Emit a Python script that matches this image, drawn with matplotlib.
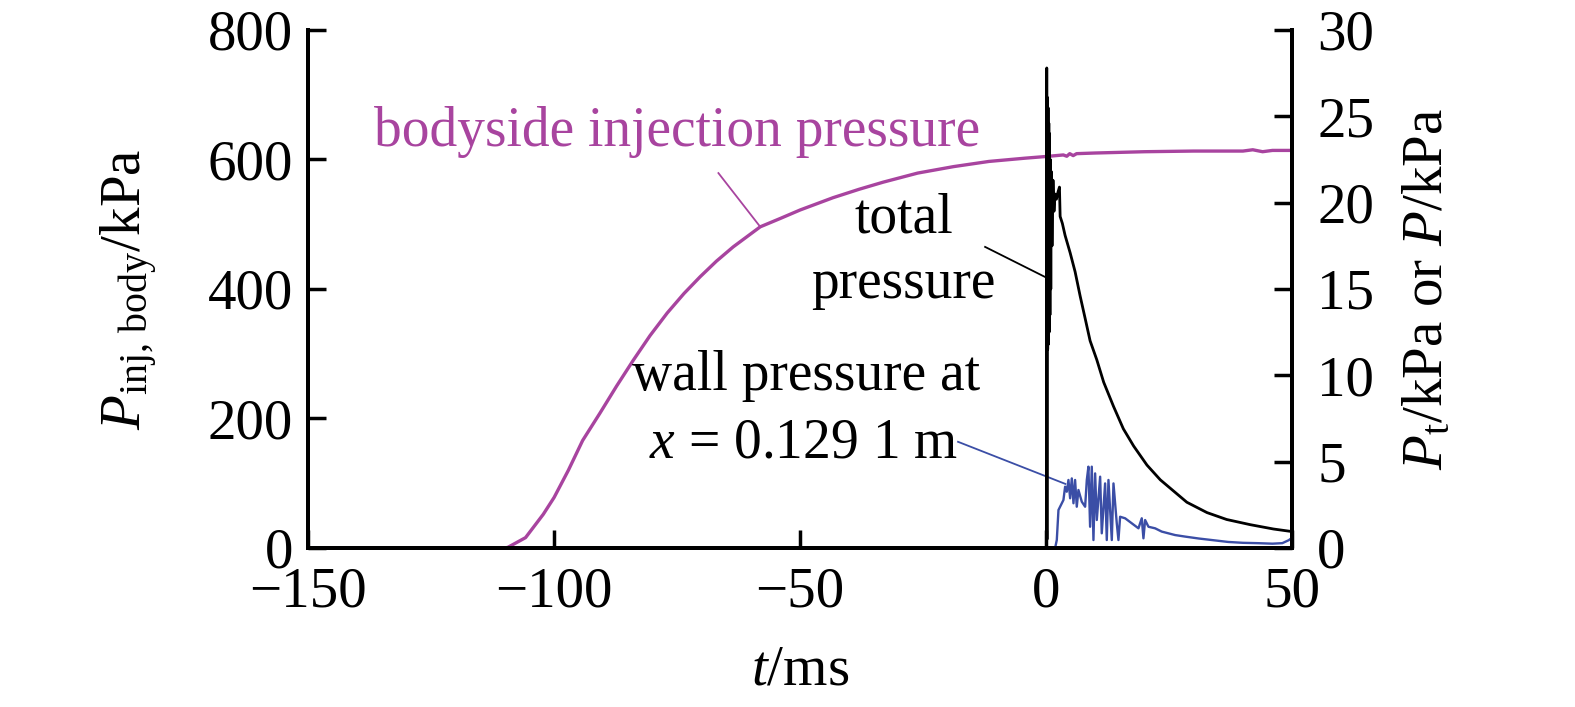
import numpy as np
import matplotlib
matplotlib.use("Agg")
import matplotlib.pyplot as plt

plt.rcParams['font.family'] = ['Liberation Serif', 'DejaVu Serif']
plt.rcParams['mathtext.fontset'] = 'custom'
plt.rcParams['mathtext.rm'] = 'Liberation Serif'
plt.rcParams['mathtext.it'] = 'Liberation Serif:italic'

# bodyside injection pressure (left axis, kPa)
inj_t = [-150, -110, -109.4, -105.8, -102.2, -100, -97.1, -94.2, -90.7, -87.3, -83.9,
         -80.5, -77.0, -73.6, -70.3, -67.0, -63.6, -58.1, -54, -50.0, -43.3, -38,
         -33.1, -26.1, -18.8, -11.6, -4.3, 0.6, 3.5, 4.2, 4.8, 5.5, 6.2, 10, 20, 30,
         40, 42, 44, 46, 50]
inj_p = [0, 0, 1, 16, 52, 78, 120, 166, 208, 250, 290,
         328, 363, 393, 419, 443, 465, 496, 509, 522, 541, 554,
         565, 579, 589, 597, 602, 605, 607, 605, 609, 606, 609, 610, 612, 613,
         613, 615, 612, 614, 614]

# total pressure (right axis, kPa)
tot_t = [-150, 0.05, 0.13, 0.18, 0.25, 0.32, 0.4, 0.47, 0.55, 0.62, 0.7, 0.78, 0.85,
         0.95, 1.05, 1.2, 1.4, 1.6, 1.83, 2.1, 2.4, 2.71, 2.85, 3.3, 3.86, 4.88, 5.89,
         6.91, 7.93, 8.94, 10.3, 11.7, 13.7, 15.7, 17.8, 20.5, 23.2, 25.9, 28.6, 32.7,
         36.7, 41.5, 46.2, 50]
tot_p = [0, 0, 27.8, 0.5, 26.1, 11.5, 25.5, 11.8, 24.6, 12.5, 24.0, 13.5, 22.5,
         15.0, 21.8, 17.5, 21.3, 19.5, 20.5, 20.2, 20.6, 20.9, 19.2, 18.8, 18.1, 17.1, 16.0,
         14.6, 13.3, 12.0, 10.9, 9.6, 8.2, 6.9, 5.9, 4.8, 3.95, 3.3, 2.65, 2.05,
         1.65, 1.35, 1.1, 0.95]

# wall pressure at x = 0.1291 m (right axis, kPa)
wall_t = [-150, 1.83, 2.17, 2.51, 3.52, 3.86, 4.20, 4.54, 4.88, 5.22, 5.56, 5.89, 6.23,
          6.57, 7.25, 7.93, 8.27, 8.60, 8.94, 9.28, 9.62, 9.96, 10.3, 10.98, 11.31,
          11.99, 12.33, 12.67, 13.35, 13.69, 14.36, 14.7, 15.04, 16.06, 17.41, 18.77,
          19.44, 19.78, 20.12, 20.8, 22.15, 23.5, 26.2, 28.25, 31, 34, 37, 40, 43, 46,
          48, 49.3, 50]
wall_p = [0, 0, 0.46, 2.20, 2.78, 3.55, 3.26, 3.94, 2.88, 4.03, 2.59, 3.94, 2.39,
          3.36, 2.68, 2.39, 3.94, 4.71, 1.23, 4.71, 0.46, 4.32, 1.62, 4.13, 0.85,
          3.74, 0.46, 3.94, 0.46, 3.74, 1.43, 0.46, 1.81, 1.72, 1.43, 1.14,
          1.72, 0.56, 1.62, 1.23, 1.14, 0.95, 0.75, 0.66, 0.55, 0.45, 0.35, 0.3, 0.28, 0.25,
          0.28, 0.45, 0.6]

purple = '#a8449f'
blue = '#3b4ea6'
fs_tick = 41
fs_text = 40

fig = plt.figure(figsize=(15.75, 7.07), dpi=100)
ax = fig.add_axes([0.1956, 0.2249, 0.6248, 0.7327])
ax2 = ax.twinx()

ax.plot(inj_t, inj_p, color=purple, lw=2.4)
ax2.plot(tot_t, tot_p, color='black', lw=2.0)
ax2.plot(wall_t, wall_p, color=blue, lw=1.7)

ax.set_xlim(-150, 50)
ax.set_ylim(0, 800)
ax2.set_ylim(0, 30)
ax.set_xticks([-150, -100, -50, 0, 50])
ax.set_yticks([0, 200, 400, 600, 800])
ax2.set_yticks([0, 5, 10, 15, 20, 25, 30])

for a in (ax, ax2):
    a.tick_params(direction='in', length=13, width=2.5, labelsize=fs_tick)
    for s in a.spines.values():
        s.set_linewidth(2.8)
ax.spines['top'].set_visible(False)
ax2.spines['top'].set_visible(False)
ax.tick_params(axis='x', pad=13)
ax.tick_params(axis='y', pad=11)
ax2.tick_params(axis='y', pad=18)

ax.set_xlabel(r'$t$/ms', fontsize=fs_tick, labelpad=19)
ax.set_ylabel(r'$P_{\rm inj,\,body}$/kPa', fontsize=fs_tick, labelpad=34)
ax2.set_ylabel(r'$P_{\rm t}$/kPa or $P$/kPa', fontsize=fs_tick, labelpad=20)

# annotations
ax.text(-75.0, 621, 'bodyside injection pressure', color=purple, fontsize=fs_text,
        ha='center', va='baseline')
ax.plot([-66.6, -58.1], [579, 496], color=purple, lw=1.3)

ax.text(-29.0, 488, 'total', fontsize=fs_text, ha='center', va='baseline')
ax.text(-29.0, 386, 'pressure', fontsize=fs_text, ha='center', va='baseline')
ax.plot([-12.4, 0.2], [465, 417], color='black', lw=1.3)

ax.text(-48.8, 244, 'wall pressure at', fontsize=fs_text, ha='center', va='baseline')
ax.text(-49.4, 140.5, r'$x$ = 0.129 1 m', fontsize=fs_text, ha='center', va='baseline')
ax.plot([-17.9, 3.9], [164, 99], color=blue, lw=1.3)

fig.savefig('out.png', dpi=100)
